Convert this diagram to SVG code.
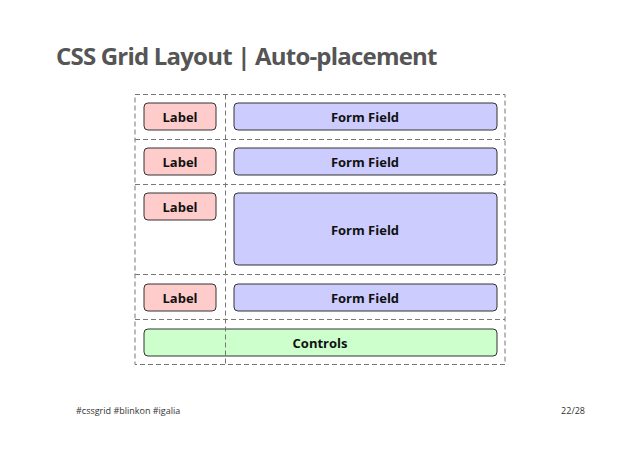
<svg xmlns="http://www.w3.org/2000/svg" width="640" height="452" viewBox="0 0 640 452">
<style>
text{font-family:"Open Sans","Noto Sans",sans-serif}
.b{stroke:#333;stroke-width:1}
.l{fill:#ffcccc}.f{fill:#ccccff}.c{fill:#ccffcc}
.t{font-size:13px;font-weight:bold;fill:#111;text-anchor:middle}
.d{fill:none;stroke:#777;stroke-width:1;stroke-dasharray:5,3}
</style>
<rect width="640" height="452" fill="#fff"/>
<text x="56" y="65" font-size="24" font-weight="bold" fill="#555" letter-spacing="-0.8">CSS Grid Layout | Auto-placement</text>
<g id="label1"><rect class="b l" x="144" y="103" width="72" height="27" rx="4"/><text class="t" x="180" y="122">Label</text></g>
<g id="field1"><rect class="b f" x="234" y="103" width="263" height="27" rx="4"/><text class="t" x="365" y="122">Form Field</text></g>
<g id="label2"><rect class="b l" x="144" y="148" width="72" height="27" rx="4"/><text class="t" x="180" y="167">Label</text></g>
<g id="field2"><rect class="b f" x="234" y="148" width="263" height="27" rx="4"/><text class="t" x="365" y="167">Form Field</text></g>
<g id="label3"><rect class="b l" x="144" y="193" width="72" height="27" rx="4"/><text class="t" x="180" y="212">Label</text></g>
<g id="field3"><rect class="b f" x="234" y="193" width="263" height="72" rx="4"/><text class="t" x="365" y="235">Form Field</text></g>
<g id="label4"><rect class="b l" x="144" y="284" width="72" height="27" rx="4"/><text class="t" x="180" y="303">Label</text></g>
<g id="field4"><rect class="b f" x="234" y="284" width="263" height="27" rx="4"/><text class="t" x="365" y="303">Form Field</text></g>
<g id="controls"><rect class="b c" x="144" y="329" width="353" height="27" rx="4"/><text class="t" x="320" y="348">Controls</text></g>
<g id="grid">
<rect class="d" x="135" y="94.5" width="370" height="270"/>
<path class="d" d="M225.5 94.5V364.5M135 139.5H505M135 184.5H505M135 274.5H505M135 319.5H505"/>
</g>
<text x="76" y="414" font-size="9" fill="#333">#cssgrid #blinkon #igalia</text>
<text x="585" y="414" font-size="9" fill="#333" text-anchor="end">22/28</text>
</svg>
